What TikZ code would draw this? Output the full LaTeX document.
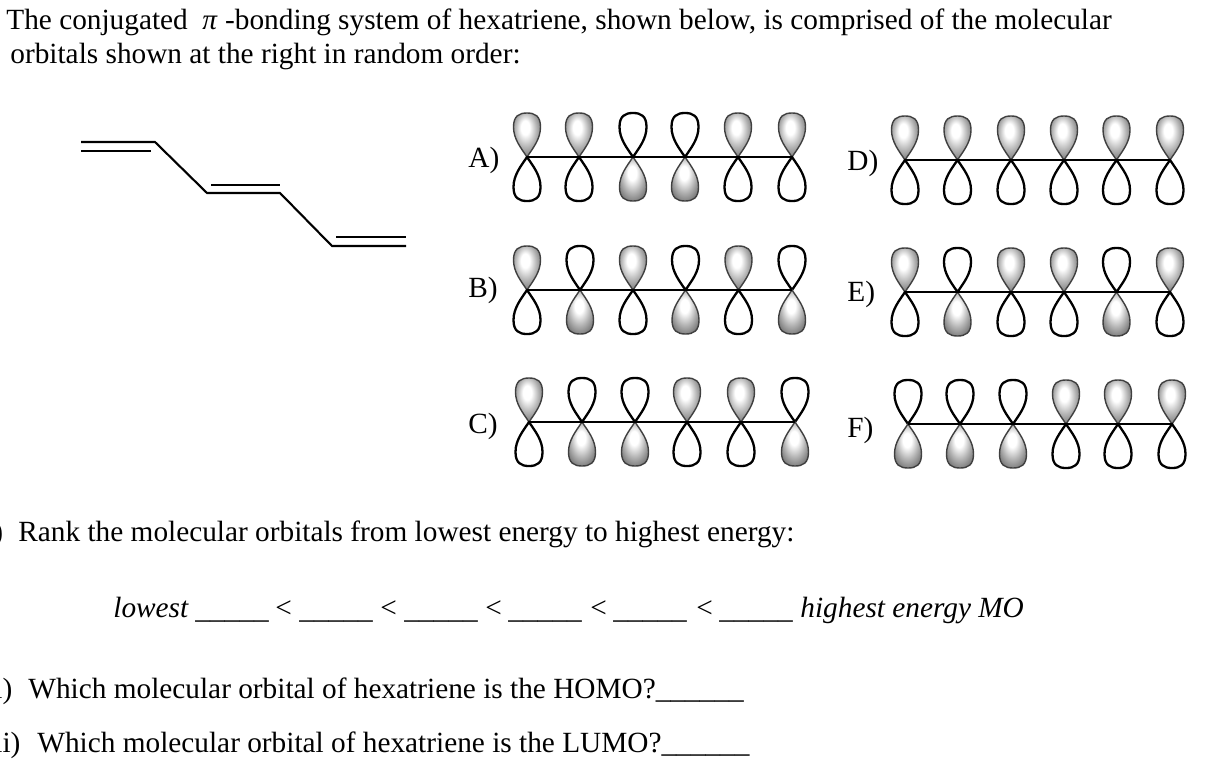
\documentclass[tikz,border=0pt]{standalone}
\usepackage{fontspec}
\setmainfont{Liberation Serif}
\pgfdeclareradialshading{lobeup}{\pgfpoint{-4bp}{10bp}}{color(0bp)=(white); color(8bp)=(white); color(20bp)=(black!30); color(31bp)=(black!55); color(40bp)=(black!85); color(50bp)=(black)}
\pgfdeclareradialshading{lobedown}{\pgfpoint{-2bp}{8bp}}{color(0bp)=(white); color(8bp)=(white); color(20bp)=(black!30); color(31bp)=(black!55); color(40bp)=(black!85); color(50bp)=(black)}
\tikzset{
  txt/.style={anchor=base west,inner sep=0pt,font=\fontsize{14.65pt}{14.65pt}\selectfont},
  bondline/.style={line width=1.05pt,black},
  hollow/.style={line width=1.15pt,draw=black,fill=white,line join=round},
  solid lobe/.style={line width=.7pt,draw=black!75},
  axis/.style={line width=1.05pt,black}
}
\newcommand\lobeshape[2]{\path[#1] (0,0) .. controls (-6,#2*9) and (-13.5,#2*18) .. (-13.5,#2*30) .. controls (-13.5,#2*41) and (-8,#2*44) .. (0,#2*44) .. controls (8,#2*44) and (13.5,#2*41) .. (13.5,#2*30) .. controls (13.5,#2*18) and (6,#2*9) .. (0,0) -- cycle;}
\newcommand\orbrow[3]{%
  \foreach \xx/\ss [count=\ii] in {#3}{
    \coordinate (#1\ii) at (\xx,#2);
    \begin{scope}[shift={(\xx,#2)}]
      \ifnum\ss=1
        \lobeshape{shade,shading=lobeup,solid lobe}{-1}
        \lobeshape{hollow}{1}
      \else
        \lobeshape{hollow}{-1}
        \lobeshape{shade,shading=lobedown,solid lobe}{1}
      \fi
    \end{scope}
  }
  \draw[axis] (#11) -- (#16);
}
\begin{document}
\begin{tikzpicture}[x=0.5pt,y=-0.5pt]
\clip (0,0) rectangle (1216,772);
\fill[white] (0,0) rectangle (1216,772);
% heading
\node[txt] (t1) at (6,29) {The conjugated\ \ \textit{π}\ -bonding system of hexatriene, shown below, is comprised of the molecular};
\node[txt] (t2) at (10,63) {orbitals shown at the right in random order:};
% hexatriene
\coordinate (a1) at (81,142); \coordinate (a2) at (155,142);
\coordinate (b1) at (81,151); \coordinate (b2) at (151,151);
\coordinate (c1) at (207,193); \coordinate (c2) at (280,193);
\coordinate (d1) at (211,185); \coordinate (d2) at (280,185);
\coordinate (e1) at (332,246); \coordinate (e2) at (406,246);
\coordinate (f1) at (336,237); \coordinate (f2) at (406,237);
\draw[bondline,line join=miter] (a1) -- (a2) -- (c1) -- (c2) -- (e1) -- (e2);
\draw[bondline] (b1) -- (b2);
\draw[bondline] (d1) -- (d2);
\draw[bondline] (f1) -- (f2);
% orbitals
\orbrow{A}{157}{527/1,579/1,633/-1,685/-1,738/1,792/1}
\orbrow{B}{290}{527/1,580/-1,633/1,685.5/-1,738.5/1,792/-1}
\orbrow{C}{422}{529/1,582/-1,635/-1,687/1,741/1,795/-1}
\orbrow{D}{160}{905/1,957.5/1,1011/1,1064/1,1116.5/1,1170/1}
\orbrow{E}{292}{905/1,957.5/-1,1011/1,1064/1,1116.5/-1,1170/1}
\orbrow{F}{424}{908/-1,960/-1,1013/-1,1066/1,1118/1,1172/1}
% labels
\node[txt] (la) at (468,167) {A)};
\node[txt] (lb) at (468,297) {B)};
\node[txt] (lc) at (468,433) {C)};
\node[txt] (ld) at (847,170) {D)};
\node[txt] (le) at (847,301) {E)};
\node[txt] (lf) at (847,437) {F)};
% questions
\node[txt] (q0) at (-7,541) {)};
\node[txt] (q1) at (18,541) {Rank the molecular orbitals from lowest energy to highest energy:};
\node[txt] (low) at (113,617) {\itshape lowest};
\foreach \xx [count=\ii] in {195,299,404,508,613,719}{\node[txt] (blank\ii) at (\xx,618) {\_\_\_\_\_};}
\foreach \xx [count=\ii] in {275,380,485,590,696}{\node[txt] (lt\ii) at (\xx,617) {<};}
\node[txt] (high) at (800,617) {\itshape highest energy MO};
\node[txt] (q2a) at (-6,698) {i)};
\node[txt] (q2) at (28,698) {Which molecular orbital of hexatriene is the HOMO?\_\_\_\_\_\_};
\node[txt] (q3a) at (-6,752) {ii)};
\node[txt] (q3) at (37,752) {Which molecular orbital of hexatriene is the LUMO?\_\_\_\_\_\_};
\end{tikzpicture}
\end{document}
